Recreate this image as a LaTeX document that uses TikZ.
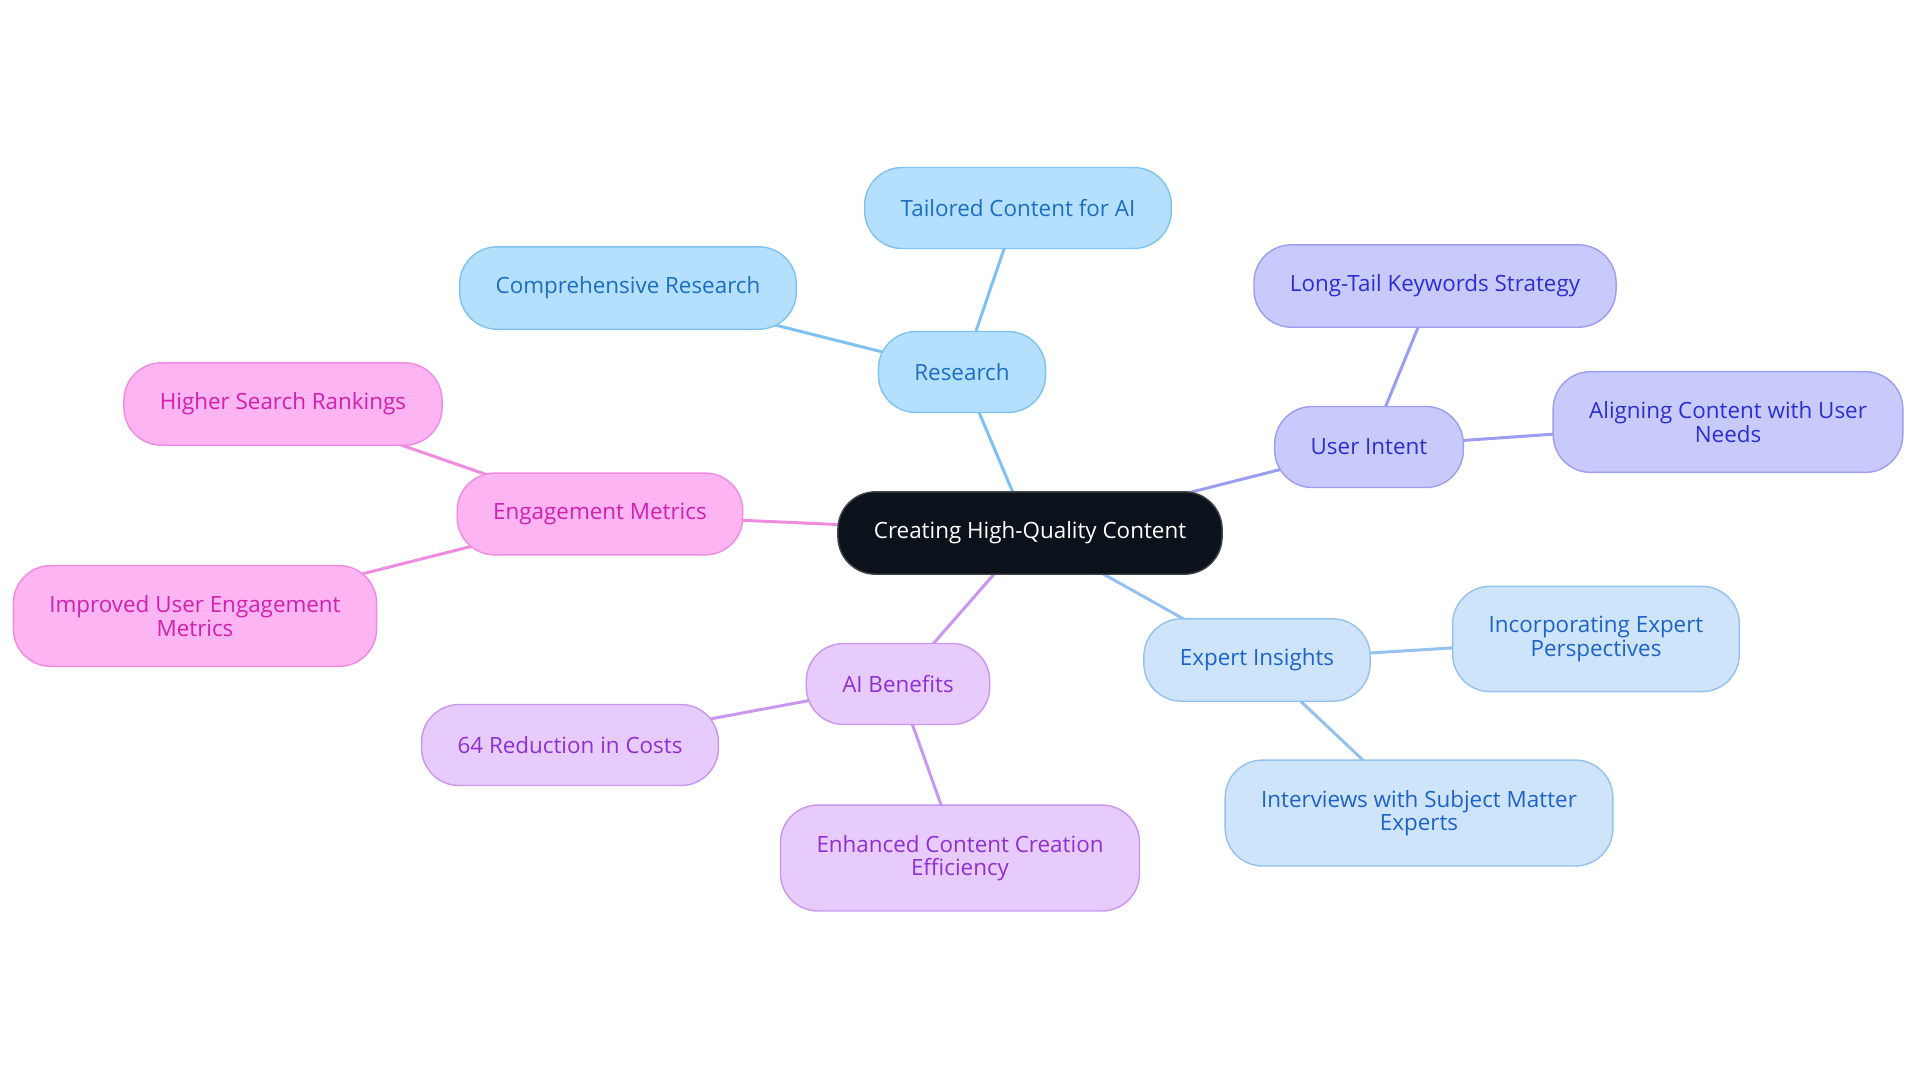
\documentclass[tikz,border=0pt]{standalone}
\usepackage{fontspec}
\setmainfont{Open Sans}
\usetikzlibrary{backgrounds}
\definecolor{mainfill}{HTML}{0C121B}
\definecolor{maindraw}{HTML}{40454D}
\definecolor{resfill}{HTML}{B5E0FD}
\definecolor{resdraw}{HTML}{7DC2F2}
\definecolor{restext}{HTML}{1B6EC2}
\definecolor{intfill}{HTML}{C9CAFC}
\definecolor{intdraw}{HTML}{9C9CF0}
\definecolor{inttext}{HTML}{2D2ED0}
\definecolor{engfill}{HTML}{FCB4F2}
\definecolor{engdraw}{HTML}{F08BE0}
\definecolor{engtext}{HTML}{CF21AE}
\definecolor{aifill}{HTML}{E7CBFC}
\definecolor{aidraw}{HTML}{C996F0}
\definecolor{aitext}{HTML}{9130D0}
\definecolor{expfill}{HTML}{CDE4FB}
\definecolor{expdraw}{HTML}{94C1EF}
\definecolor{exptext}{HTML}{1E63C7}

\begin{document}
\begin{tikzpicture}[x=0.02cm, y=-0.02cm,
	box/.style={draw, rounded corners=0.75cm, line width=0.8pt, inner xsep=0.72cm, inner ysep=0.6cm, minimum height=1.62cm, align=center, font=\fontsize{12.75}{13.4}\selectfont},
	mainbox/.style={box, fill=mainfill, draw=maindraw, text=white},
	resbox/.style={box, fill=resfill, draw=resdraw, text=restext},
	intbox/.style={box, fill=intfill, draw=intdraw, text=inttext},
	engbox/.style={box, fill=engfill, draw=engdraw, text=engtext},
	aibox/.style={box, fill=aifill, draw=aidraw, text=aitext},
	expbox/.style={box, fill=expfill, draw=expdraw, text=exptext},
	link/.style={line width=1.7pt}]
	\useasboundingbox (0,0) rectangle (1920,1083);
	% centre
	\node[mainbox] (M)at(1030, 533) {Creating High-Quality Content};
	% research
	\node[resbox] (R)at(962, 372) {Research};
	\node[resbox] (RT)at(1018, 208) {Tailored Content for AI};
	\node[resbox] (RC)at(628, 288) {Comprehensive Research};
	% user intent
	\node[intbox] (U)at(1369, 447) {User Intent};
	\node[intbox] (UL)at(1435, 286) {Long-Tail Keywords Strategy};
	\node[intbox] (UA)at(1728, 422) {Aligning Content with User\\Needs};
	% engagement
	\node[engbox] (E)at(600, 514) {Engagement Metrics};
	\node[engbox] (EH)at(283, 404) {Higher Search Rankings};
	\node[engbox] (EI)at(195, 616) {Improved User Engagement\\Metrics};
	% ai benefits
	\node[aibox] (A)at(898, 684) {AI Benefits};
	\node[aibox] (AR)at(570, 745) {64 Reduction in Costs};
	\node[aibox] (AE)at(960, 858) {Enhanced Content Creation\\Efficiency};
	% expert insights
	\node[expbox] (X)at(1257, 660) {Expert Insights};
	\node[expbox] (XP)at(1596, 639) {Incorporating Expert\\Perspectives};
	\node[expbox] (XI)at(1419, 813) {Interviews with Subject Matter\\Experts};
	% links, behind the boxes
	\begin{scope}[on background layer]
		\draw[link, resdraw] (M.center) -- (R.center);
		\draw[link, resdraw] (R.center) -- (RT.center);
		\draw[link, resdraw] (R.center) -- (RC.center);
		\draw[link, intdraw] (M.center) -- (U.center);
		\draw[link, intdraw] (U.center) -- (UL.center);
		\draw[link, intdraw] (U.center) -- (UA.center);
		\draw[link, engdraw] (M.center) -- (E.center);
		\draw[link, engdraw] (E.center) -- (EH.center);
		\draw[link, engdraw] (E.center) -- (EI.center);
		\draw[link, aidraw] (M.center) -- (A.center);
		\draw[link, aidraw] (A.center) -- (AR.center);
		\draw[link, aidraw] (A.center) -- (AE.center);
		\draw[link, expdraw] (M.center) -- (X.center);
		\draw[link, expdraw] (X.center) -- (XP.center);
		\draw[link, expdraw] (X.center) -- (XI.center);
	\end{scope}
\end{tikzpicture}
\end{document}
